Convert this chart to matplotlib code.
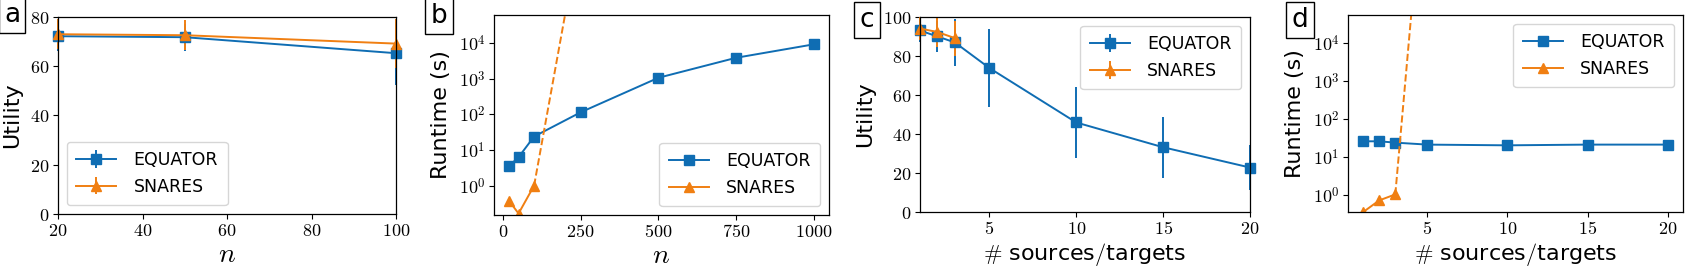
import numpy as np
import matplotlib
matplotlib.use("Agg")
import matplotlib.pyplot as plt
from matplotlib.ticker import LogLocator, NullLocator, FuncFormatter
import math

plt.rcParams['mathtext.fontset'] = 'cm'
plt.rcParams['font.family'] = ['DejaVu Sans']

BLUE = '#0f6db3'
ORANGE = '#f07f12'

# Panel a: utility vs n
a_n = [20, 50, 100]
a_eq = [72.2, 71.8, 65.3]
a_eq_err = [6.0, 5.5, 12.8]
a_sn = [73.0, 72.6, 69.2]
a_sn_err = [6.0, 6.0, 10.0]

# Panel b: runtime vs n
b_n_eq = [20, 50, 100, 250, 500, 750, 1000]
b_eq = [3.6, 6.3, 24, 115, 1070, 3900, 9300]
b_n_sn = [20, 50, 100]
b_sn = [0.37, 0.165, 1.0]
b_sn_extrap_n = [100, 200]
b_sn_extrap = [1.0, 6.5e4]

# Panel c: utility vs # sources/targets
c_k_eq = [1, 2, 3, 5, 10, 15, 20]
c_eq = [93.1, 90.0, 87.0, 73.8, 45.9, 33.2, 22.8]
c_eq_err = [6.0, 8.0, 12.0, 20.0, 18.0, 15.6, 11.5]
c_k_sn = [1, 2, 3]
c_sn = [94.1, 92.3, 89.2]
c_sn_err = [6.0, 7.5, 9.0]

# Panel d: runtime vs # sources/targets
d_k_eq = [1, 2, 3, 5, 10, 15, 20]
d_eq = [25.8, 25.8, 23.8, 21.1, 20.2, 21.1, 21.1]
d_k_sn = [1, 2, 3]
d_sn = [0.35, 0.71, 1.02]
d_sn_extrap_k = [3, 4]
d_sn_extrap = [1.02, 6.0e4]

W, H = 1686, 266
fig = plt.figure(figsize=(W / 100, H / 100), dpi=100)

def rect(l, r, t, b):
    return [l / W, (H - b) / H, (r - l) / W, (b - t) / H]

ax_a = fig.add_axes(rect(58, 396, 17, 214))
ax_b = fig.add_axes(rect(494, 829, 15, 215))
ax_c = fig.add_axes(rect(920, 1250, 17, 212))
ax_d = fig.add_axes(rect(1348, 1683, 15, 212))

TICK_FS = 13
LABEL_FS = 16
LEG_FS = 12.5
ms = 6.5
lw = 1.4

int_fmt = FuncFormatter(lambda v, p: r'$%d$' % round(v))
log_fmt = FuncFormatter(lambda v, p: r'$10^{%d}$' % round(math.log10(v)))

def style(ax):
    ax.tick_params(labelsize=TICK_FS, length=3.5, width=0.8, pad=2.5)
    for s in ax.spines.values():
        s.set_linewidth(0.9)

def legend(ax, loc):
    leg = ax.legend(loc=loc, fontsize=LEG_FS, handlelength=2.3, borderpad=0.55,
                    labelspacing=0.5, handletextpad=1.0, framealpha=0.8)
    leg.get_frame().set_edgecolor('#cccccc')

# ---- a
ax_a.errorbar(a_n, a_eq, yerr=a_eq_err, color=BLUE, marker='s', ms=ms + 1, lw=lw, label='EQUATOR', clip_on=False)
ax_a.errorbar(a_n, a_sn, yerr=a_sn_err, color=ORANGE, marker='^', ms=ms + 1, lw=lw, label='SNARES', clip_on=False)
ax_a.set_xlim(20, 100)
ax_a.set_ylim(0, 80)
ax_a.set_xticks([20, 40, 60, 80, 100])
ax_a.set_yticks([0, 20, 40, 60, 80])
ax_a.xaxis.set_major_formatter(int_fmt)
ax_a.yaxis.set_major_formatter(int_fmt)
ax_a.set_ylabel('Utility', fontsize=LABEL_FS, labelpad=6)
ax_a.set_xlabel(r'$n$', fontsize=LABEL_FS + 4, labelpad=0)
legend(ax_a, 'lower left')

# ---- b
ax_b.plot(b_n_eq, b_eq, color=BLUE, marker='s', ms=ms + 1, lw=lw, label='EQUATOR')
ax_b.plot(b_n_sn, b_sn, color=ORANGE, marker='^', ms=ms, lw=lw, label='SNARES')
ax_b.plot(b_sn_extrap_n, b_sn_extrap, color=ORANGE, ls='--', lw=lw)
ax_b.set_yscale('log')
ax_b.set_ylim(0.15, 6.2e4)
ax_b.set_xlim(-29, 1049)
ax_b.set_xticks([0, 250, 500, 750, 1000])
ax_b.xaxis.set_major_formatter(int_fmt)
ax_b.yaxis.set_major_locator(LogLocator(base=10, numticks=10))
ax_b.yaxis.set_minor_locator(NullLocator())
ax_b.yaxis.set_major_formatter(log_fmt)
ax_b.set_ylabel('Runtime (s)', fontsize=LABEL_FS, labelpad=6)
ax_b.set_xlabel(r'$n$', fontsize=LABEL_FS + 4, labelpad=0)
legend(ax_b, 'lower right')

# ---- c
ax_c.errorbar(c_k_eq, c_eq, yerr=c_eq_err, color=BLUE, marker='s', ms=ms + 1, lw=lw, label='EQUATOR', clip_on=False)
ax_c.errorbar(c_k_sn, c_sn, yerr=c_sn_err, color=ORANGE, marker='^', ms=ms, lw=lw, label='SNARES', clip_on=False)
ax_c.set_xlim(1, 20)
ax_c.set_ylim(0, 100)
ax_c.set_xticks([5, 10, 15, 20])
ax_c.set_yticks([0, 20, 40, 60, 80, 100])
ax_c.xaxis.set_major_formatter(int_fmt)
ax_c.yaxis.set_major_formatter(int_fmt)
ax_c.set_ylabel('Utility', fontsize=LABEL_FS, labelpad=6)
ax_c.set_xlabel(r'$\#$ sources$/$targets', fontsize=LABEL_FS, labelpad=2)
legend(ax_c, 'upper right')

# ---- d
ax_d.plot(d_k_eq, d_eq, color=BLUE, marker='s', ms=ms + 1, lw=lw, label='EQUATOR')
ax_d.plot(d_k_sn, d_sn, color=ORANGE, marker='^', ms=ms, lw=lw, label='SNARES')
ax_d.plot(d_sn_extrap_k, d_sn_extrap, color=ORANGE, ls='--', lw=lw)
ax_d.set_yscale('log')
ax_d.set_ylim(0.35, 5.6e4)
ax_d.set_xlim(0.05, 20.95)
ax_d.set_xticks([5, 10, 15, 20])
ax_d.xaxis.set_major_formatter(int_fmt)
ax_d.yaxis.set_major_locator(LogLocator(base=10, numticks=10))
ax_d.yaxis.set_minor_locator(NullLocator())
ax_d.yaxis.set_major_formatter(log_fmt)
ax_d.set_ylabel('Runtime (s)', fontsize=LABEL_FS, labelpad=6)
ax_d.set_xlabel(r'$\#$ sources$/$targets', fontsize=LABEL_FS, labelpad=2)
legend(ax_d, 'upper right')

for ax in (ax_a, ax_b, ax_c, ax_d):
    style(ax)

# panel letters
for lab, x, y in [('a', 12, 15), ('b', 439, 16), ('c', 867, 20), ('d', 1300, 20)]:
    fig.text(x / W, 1 - y / H, lab, fontsize=19, ha='center', va='center',
             bbox=dict(boxstyle='square,pad=0.2', fc='white', ec='black', lw=1.0))

fig.savefig('out.png', dpi=100)
